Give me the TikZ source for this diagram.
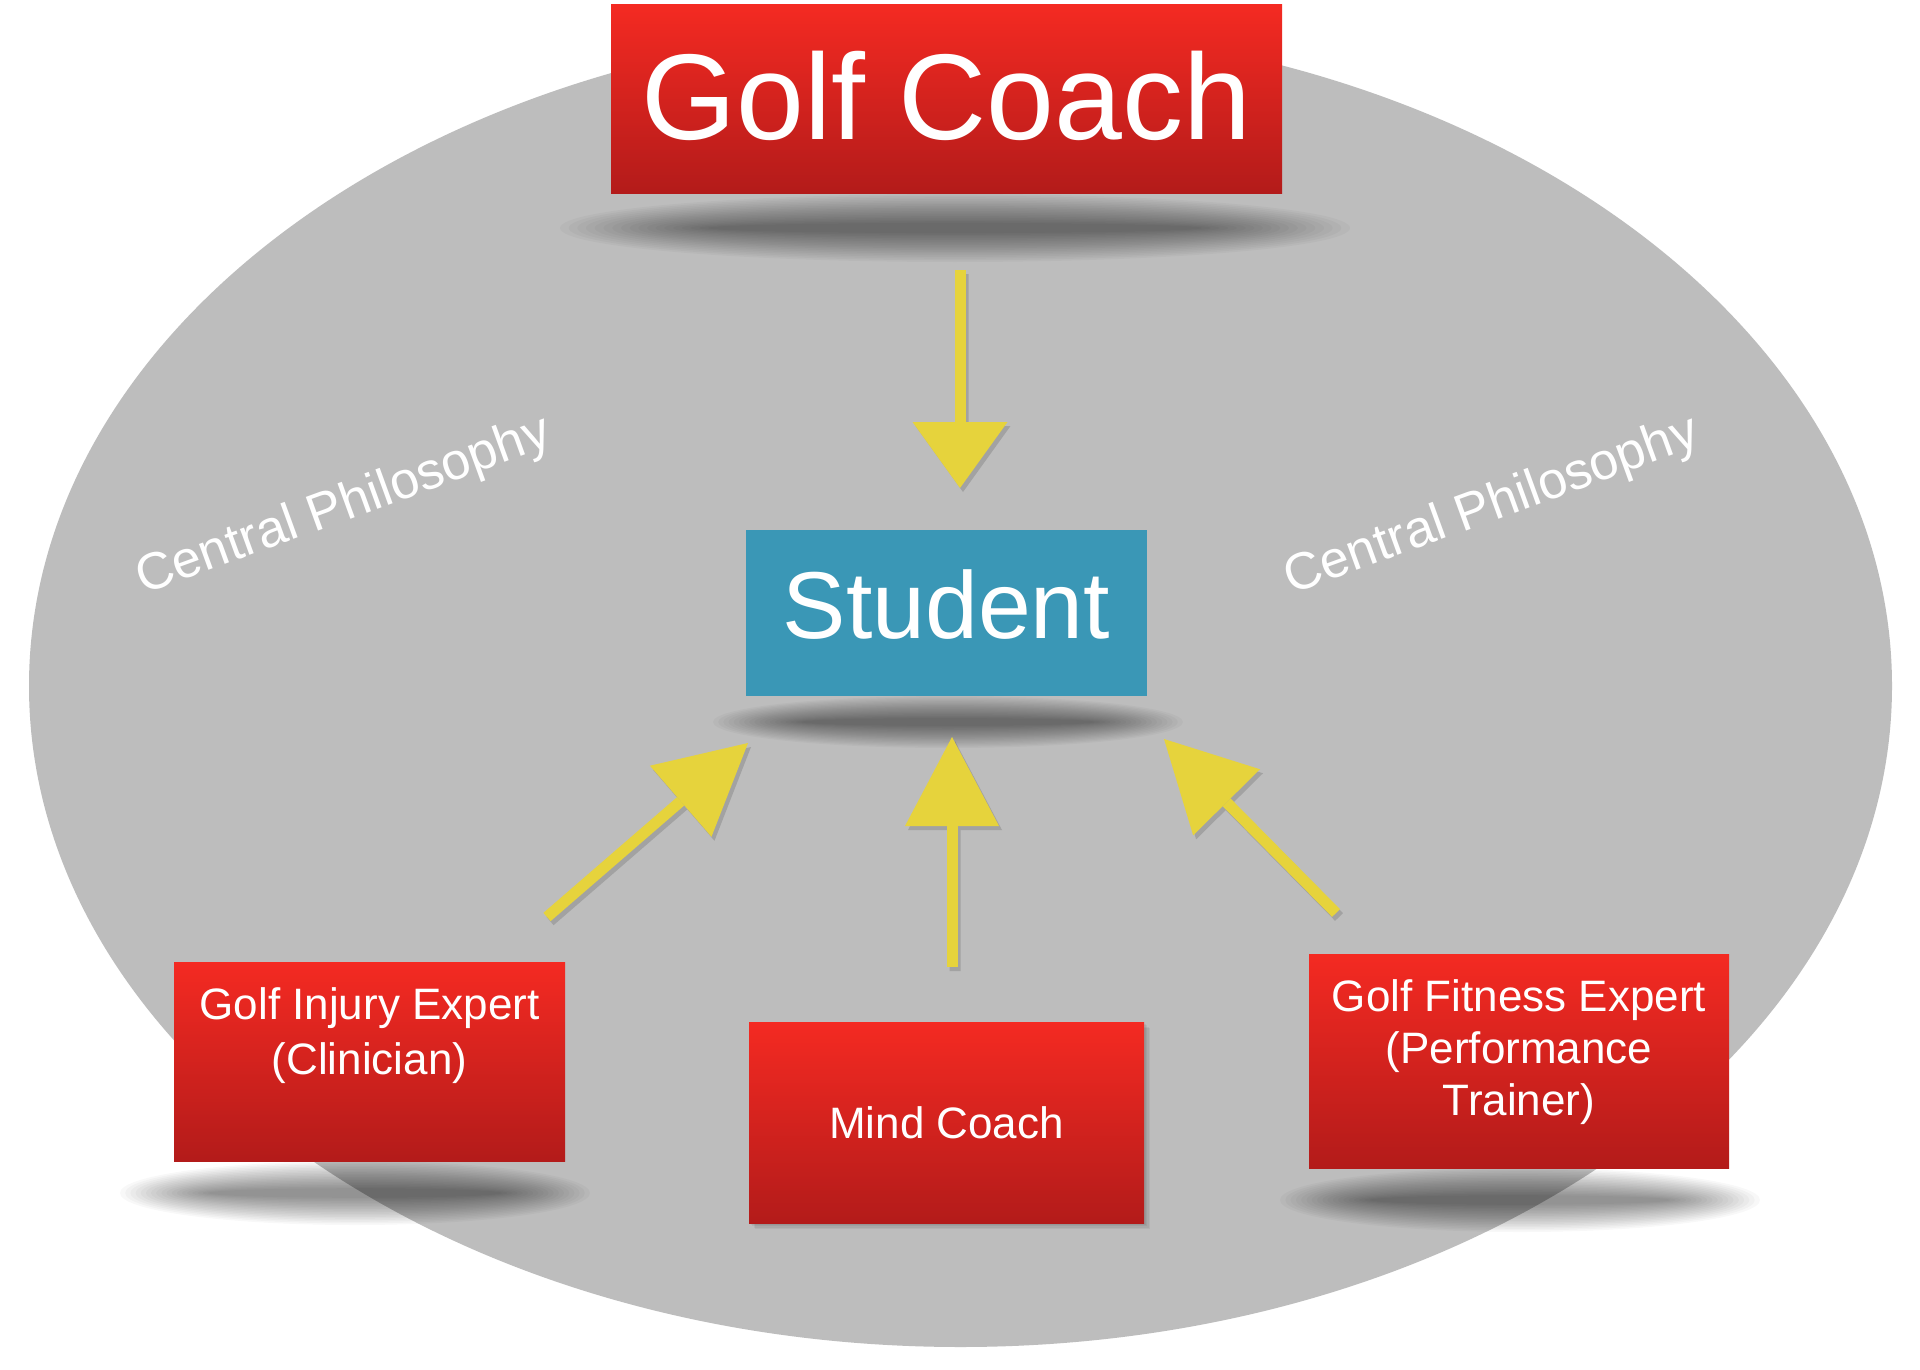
\documentclass[tikz,border=0pt]{standalone}
\usepackage{fontspec}
\setmainfont{Liberation Sans}
\usetikzlibrary{arrows.meta}
\definecolor{ellgray}{HTML}{BDBDBD}
\definecolor{redtop}{HTML}{F42A22}
\definecolor{redbot}{HTML}{B31B1A}
\definecolor{studentblue}{HTML}{3A97B6}
\definecolor{arrowyellow}{HTML}{E6D33C}
\newcommand\softshadow[4]{%
  \foreach \k in {0,...,17}{%
    \fill[black,opacity=0.026] (#1,#2) ellipse [x radius={(#3*(1-0.022*\k))*1pt}, y radius={(#4*(1-0.05*\k))*1pt}];
  }}
\begin{document}
\begin{tikzpicture}[x=1pt,y=-1pt,
  redbox/.style={rectangle, inner sep=0pt, top color=redtop, bottom color=redbot, text=white},
  lbl/.style={text=white, inner sep=0pt, align=center},
  philo/.style={text=white, inner sep=0pt, rotate=20, font=\fontsize{52}{62}\selectfont},
  yarrow/.style={draw=arrowyellow, line width=11pt, line cap=butt,
     -{Triangle[length=89pt, width=94pt, line width=0pt]}},
  yarrowtop/.style={draw=arrowyellow, line width=11pt, line cap=butt,
     -{Triangle[length=66pt, width=95pt, line width=0pt]}},
]
\useasboundingbox (0,0) rectangle (1920,1370);
\fill[white] (0,0) rectangle (1920,1370);
% central philosophy ellipse
\fill[ellgray] (960.5,686) ellipse [x radius=931.5pt, y radius=661pt];

% soft shadows under boxes
\softshadow{955}{228}{395}{34}
\softshadow{948}{722}{235}{26}
\softshadow{355}{1193}{235}{32}
\softshadow{1520}{1200}{240}{32}
\foreach \k in {1,...,4}{%
  \fill[black,opacity=0.05] (749+\k*1.5,1022+\k*1.5) rectangle (1144+\k*1.5,1223+\k*1.5);
}

% arrow end points
\coordinate (ta) at (960,270);  \coordinate (tb) at (960,488);
\coordinate (ma) at (952,967);  \coordinate (mb) at (952,737);
\coordinate (la) at (547,917);  \coordinate (lb) at (748,743);
\coordinate (ra) at (1336,913); \coordinate (rb) at (1164,739);

% arrow shadows
\begin{scope}[transparency group, opacity=0.14]
  \draw[yarrowtop, draw=black] ([xshift=3pt,yshift=-4pt]ta) -- ([xshift=3pt,yshift=-4pt]tb);
  \draw[yarrow, draw=black] ([xshift=3pt,yshift=-4pt]ma) -- ([xshift=3pt,yshift=-4pt]mb);
  \draw[yarrow, draw=black] ([xshift=3pt,yshift=-4pt]la) -- ([xshift=3pt,yshift=-4pt]lb);
  \draw[yarrow, draw=black] ([xshift=3pt,yshift=-4pt]ra) -- ([xshift=3pt,yshift=-4pt]rb);
\end{scope}

% arrows
\draw[yarrowtop] (ta) -- (tb);
\draw[yarrow] (ma) -- (mb);
\draw[yarrow] (la) -- (lb);
\draw[yarrow] (ra) -- (rb);

% boxes
\node[redbox, minimum width=671pt, minimum height=188pt, text height=89pt, text depth=7pt,
      font=\fontsize{122}{146}\selectfont] (coach) at (946.5,99) {Golf Coach};
\node[rectangle, inner sep=0pt, fill=studentblue, text=white, minimum width=401pt, minimum height=166pt,
      text height=69pt, text depth=19pt, font=\fontsize{95}{114}\selectfont] (student) at (946.5,613) {Student};
\node[redbox, minimum width=395pt, minimum height=201pt, text height=32pt, text depth=1pt,
      font=\fontsize{44}{53}\selectfont] (mind) at (946.5,1122.5) {Mind Coach};
\node[redbox, minimum width=391pt, minimum height=199pt] (injury) at (369.5,1061.5) {};
\node[lbl, anchor=north, font=\fontsize{44}{55}\selectfont] (injurytxt) at (369.5,987) {Golf Injury Expert\\(Clinician)};
\node[redbox, minimum width=420pt, minimum height=214pt] (fitness) at (1519,1061) {};
\node[lbl, anchor=north, font=\fontsize{44}{52}\selectfont] (fitnesstxt) at (1519,979) {Golf Fitness Expert\\(Performance\\Trainer)};

% rotated labels
\node[philo] (philoL) at (344,507) {Central Philosophy};
\node[philo] (philoR) at (1492,507) {Central Philosophy};
\end{tikzpicture}
\end{document}
